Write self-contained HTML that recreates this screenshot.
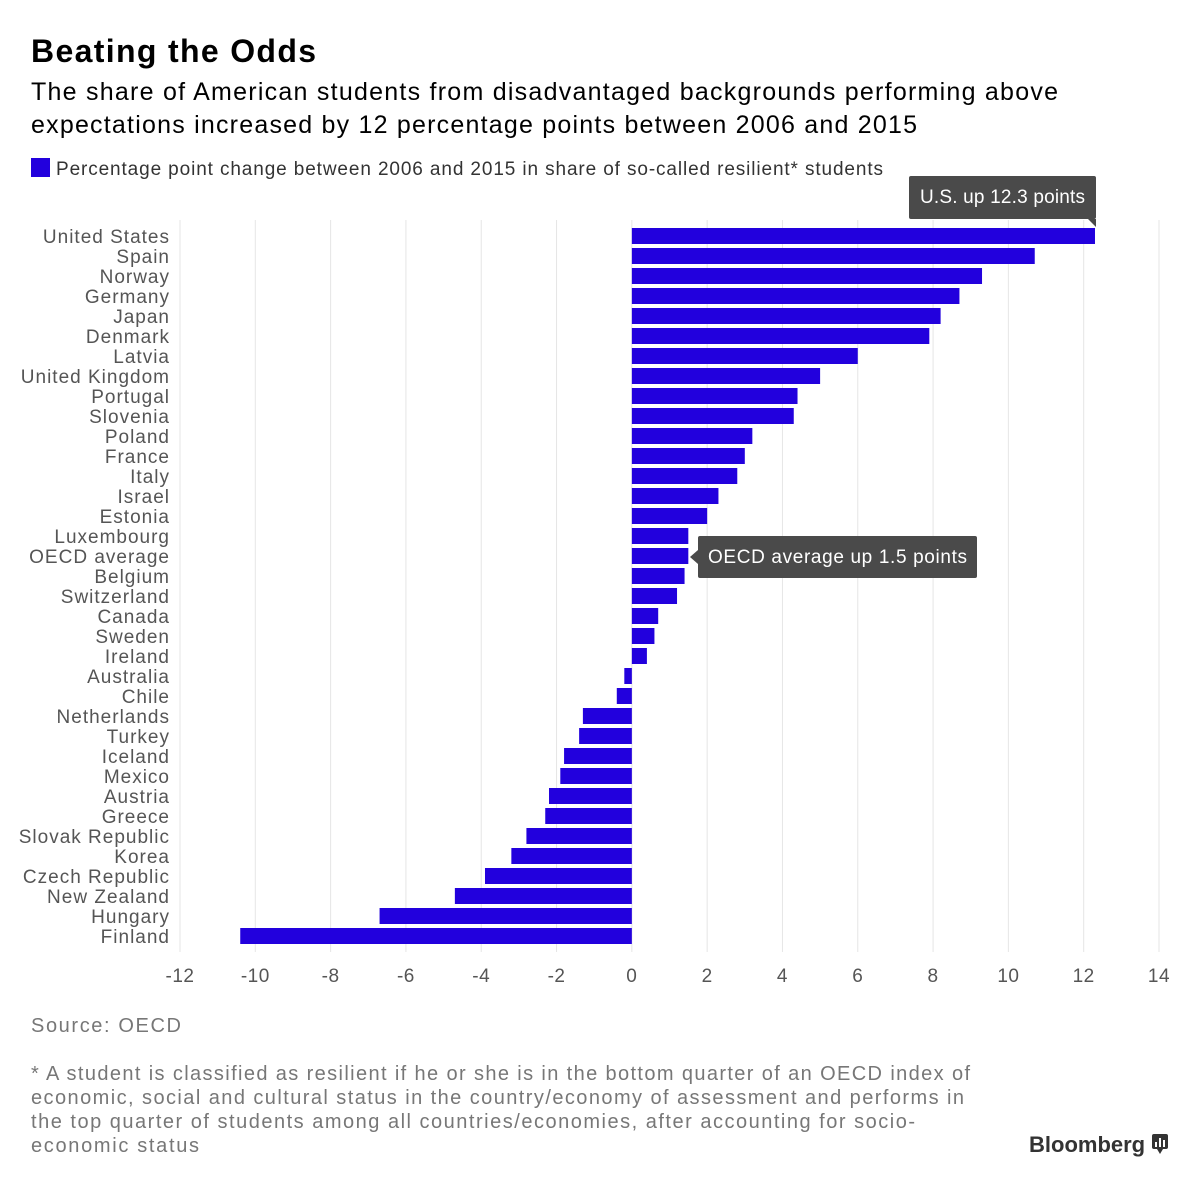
<!DOCTYPE html>
<html><head><meta charset="utf-8"><style>
body{margin:0;background:#fff;}
svg{display:block;font-family:"Liberation Sans",sans-serif;}
</style></head><body>
<svg id="chart" width="1200" height="1188" viewBox="0 0 1200 1188">
<text x="31" y="62" font-size="32" font-weight="bold" fill="#000" textLength="285" lengthAdjust="spacing">Beating the Odds</text>
<text x="31" y="100" font-size="25" fill="#000" textLength="1027" lengthAdjust="spacing">The share of American students from disadvantaged backgrounds performing above</text>
<text x="31" y="133" font-size="25" fill="#000" textLength="886" lengthAdjust="spacing">expectations increased by 12 percentage points between 2006 and 2015</text>
<rect x="31" y="158" width="19" height="19" fill="#2200dd"/>
<text x="56" y="175" font-size="19" fill="#333" textLength="827" lengthAdjust="spacing">Percentage point change between 2006 and 2015 in share of so-called resilient* students</text>
<g id="grid"></g>
<g id="bars"></g>
<g id="labels"></g>
<g id="ticks"></g>
<g>
<rect x="909" y="176" width="187" height="43" rx="2" fill="#4a4a4a"/>
<polygon points="1088,219 1096,219 1096,227" fill="#4a4a4a"/>
<text x="920" y="203" font-size="19" fill="#fff" textLength="165" lengthAdjust="spacing">U.S. up 12.3 points</text>
</g>
<g>
<rect x="698" y="536" width="279" height="42" rx="2" fill="#4a4a4a"/>
<polygon points="698,550 690,557 698,564" fill="#4a4a4a"/>
<text x="708" y="563" font-size="19" fill="#fff" textLength="259" lengthAdjust="spacing">OECD average up 1.5 points</text>
</g>
<text x="31" y="1032" font-size="20" fill="#777" textLength="150" lengthAdjust="spacing">Source: OECD</text>
<g font-size="20" fill="#777">
<text x="31" y="1080" textLength="939" lengthAdjust="spacing">* A student is classified as resilient if he or she is in the bottom quarter of an OECD index of</text>
<text x="31" y="1104" textLength="933" lengthAdjust="spacing">economic, social and cultural status in the country/economy of assessment and performs in</text>
<text x="31" y="1128" textLength="884" lengthAdjust="spacing">the top quarter of students among all countries/economies, after accounting for socio-</text>
<text x="31" y="1152" textLength="168" lengthAdjust="spacing">economic status</text>
</g>
<g>
<text x="1029" y="1152" font-size="22" font-weight="bold" fill="#333">Bloomberg</text>
<rect x="1152" y="1134" width="16" height="15" rx="2" fill="#333"/>
<polygon points="1157,1149 1160,1154 1163,1149" fill="#333"/>
<rect x="1155" y="1142" width="2" height="5" fill="#fff"/><rect x="1159" y="1138" width="2" height="9" fill="#fff"/><rect x="1163" y="1140" width="2" height="7" fill="#fff"/>
</g>
</svg>
<script>
const countries=["United States","Spain","Norway","Germany","Japan","Denmark","Latvia","United Kingdom","Portugal","Slovenia","Poland","France","Italy","Israel","Estonia","Luxembourg","OECD average","Belgium","Switzerland","Canada","Sweden","Ireland","Australia","Chile","Netherlands","Turkey","Iceland","Mexico","Austria","Greece","Slovak Republic","Korea","Czech Republic","New Zealand","Hungary","Finland"];
const values=[12.3,10.7,9.3,8.7,8.2,7.9,6.0,5.0,4.4,4.3,3.2,3.0,2.8,2.3,2.0,1.5,1.5,1.4,1.2,0.7,0.6,0.4,-0.2,-0.4,-1.3,-1.4,-1.8,-1.9,-2.2,-2.3,-2.8,-3.2,-3.9,-4.7,-6.7,-10.4];
const tickValues=[-12,-10,-8,-6,-4,-2,0,2,4,6,8,10,12,14];
const NS="http://www.w3.org/2000/svg";
const x0=180,x1=1159,vmin=-12,vmax=14;
const xs=v=>x0+(v-vmin)/(vmax-vmin)*(x1-x0);
const yRow=i=>236+i*20;
function mk(tag,attrs,parent){const e=document.createElementNS(NS,tag);for(const k in attrs)e.setAttribute(k,attrs[k]);document.getElementById(parent).appendChild(e);return e;}
tickValues.forEach(t=>{
 const g=mk("line",{x1:xs(t),x2:xs(t),y1:220,y2:952,stroke:"#e6e6e6","stroke-width":1},"grid");
 
 
 const tx=mk("text",{x:xs(t),y:982,"font-size":19,fill:"#555","text-anchor":"middle","letter-spacing":"0.5"},"ticks");
 tx.textContent=t;
 
 
});
countries.forEach((c,i)=>{
 const v=values[i];const a=xs(0),b=xs(v);
 const r=mk("rect",{x:Math.min(a,b),y:yRow(i)-8,width:Math.abs(b-a),height:16,fill:"#2200dd"},"bars");
 
 
 const t=mk("text",{x:170,y:yRow(i)+7,"font-size":19,fill:"#555","text-anchor":"end","letter-spacing":"1"},"labels");
 t.textContent=c;
 
 
});
</script>
</body></html>
